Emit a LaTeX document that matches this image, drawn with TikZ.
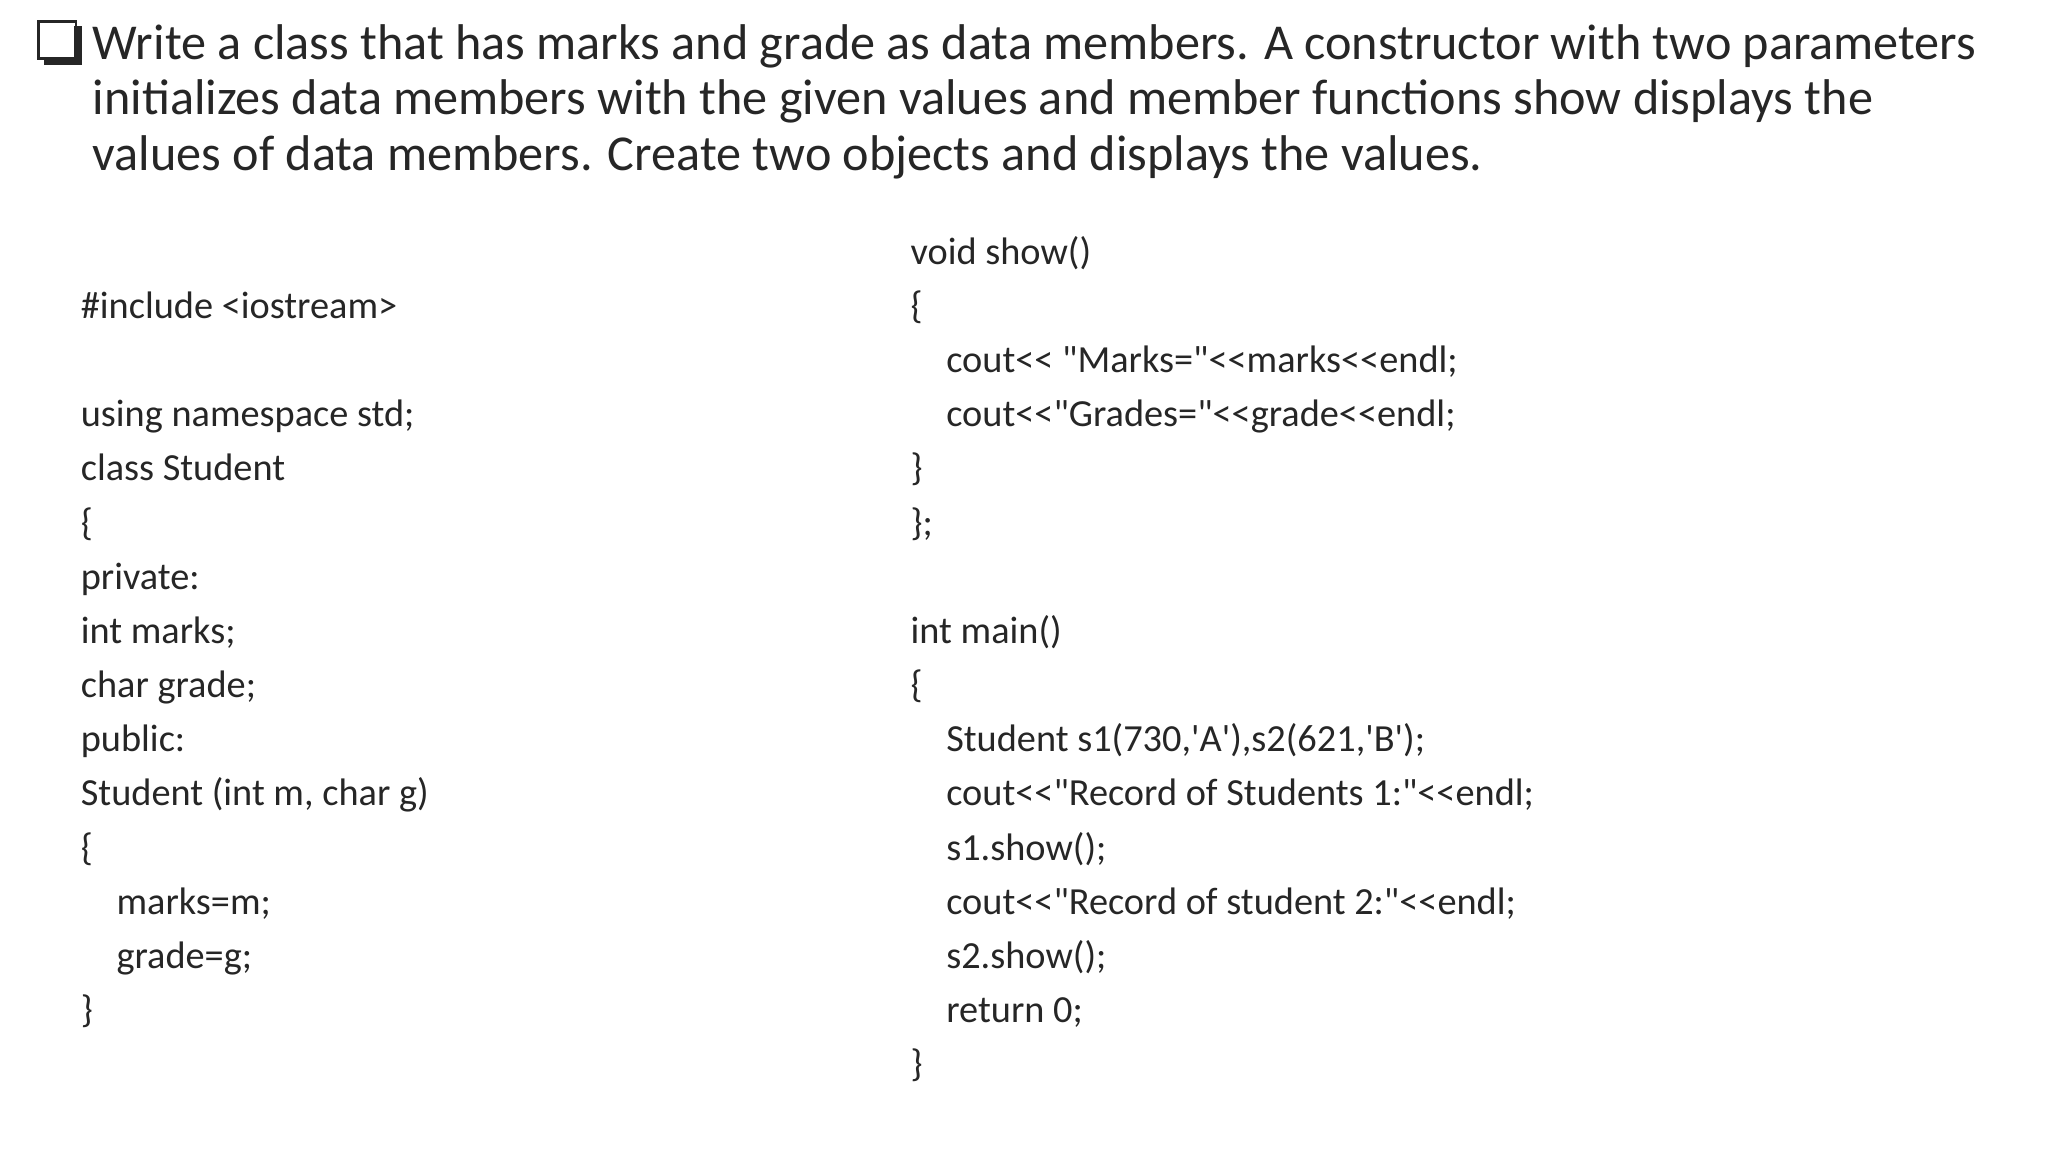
\documentclass[tikz,border=0pt]{standalone}
\usepackage{fontspec}
\newfontfamily\code{Carlito}
\begin{document}
\begin{tikzpicture}[x=1pt,y=-1pt,
  tl/.style={anchor=base west,inner sep=0pt,font=\code\fontsize{38}{44}\selectfont,text=black!85},
  cl/.style={anchor=base west,inner sep=0pt,font=\code\fontsize{29}{34}\selectfont,text=black!85}]
\useasboundingbox (0,0) rectangle (1550,872);
% checkbox
\fill[black!85] (33,20) rectangle (62,49);
\fill[white] (30.5,17.5) rectangle (56,43);
\draw[black!85,line width=2.2pt] (29,16) rectangle (57.5,44.5);
\node[tl] (t1) at (70,45) {Write a class that has marks and grade as data members. A constructor with two parameters};
\node[tl] (t2) at (70,87) {initializes data members with the given values and member functions show displays the};
\node[tl] (t3) at (70,129) {values of data members. Create two objects and displays the values.};
% left column
\foreach \y/\x/\t [count=\i] in {
 234/61/{\#include <iostream>},
 316/61/{using namespace std;},
 357/61/{class Student},
 398/61/{\{},
 439/61/{private:},
 480/61/{int marks;},
 521/61/{char grade;},
 562/61/{public:},
 603/61/{Student (int m, char g)},
 644/61/{\{},
 685/88/{marks=m;},
 726/88/{grade=g;},
 767/61/{\}}}
 \node[cl] (l\i) at (\x,\y+7) {\t};
% right column
\foreach \y/\x/\t [count=\i] in {
 193/695/{void show()},
 234/695/{\{},
 275/722/{cout<{}< "Marks="<{}<marks<{}<endl;},
 316/722/{cout<{}<"Grades="<{}<grade<{}<endl;},
 357/695/{\}},
 398/695/{\};},
 480/695/{int main()},
 521/695/{\{},
 562/722/{Student s1(730,'A'),s2(621,'B');},
 603/722/{cout<{}<"Record of Students 1:"<{}<endl;},
 644/722/{s1.show();},
 685/722/{cout<{}<"Record of student 2:"<{}<endl;},
 726/722/{s2.show();},
 767/722/{return 0;},
 808/695/{\}}}
 \node[cl] (r\i) at (\x-6,\y+7) {\t};
\end{tikzpicture}
\end{document}
